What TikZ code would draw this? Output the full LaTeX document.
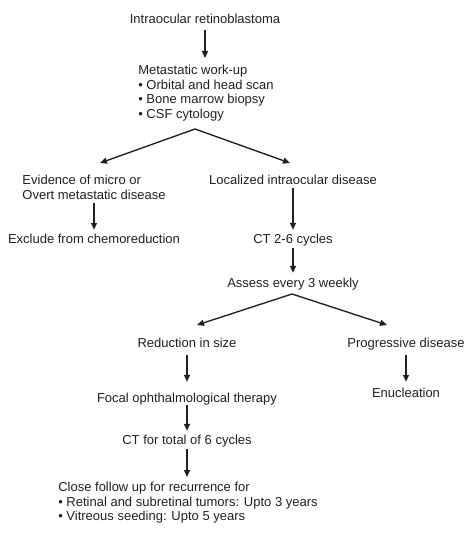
\documentclass[tikz,border=0pt]{standalone}
\usepackage{fontspec}
\setmainfont{Liberation Sans}
\usetikzlibrary{arrows.meta}
\definecolor{ink}{HTML}{231F20}
\tikzset{
  txt/.style={inner sep=0, font=\fontsize{13}{14.5}\selectfont, text=ink},
  one/.style={txt, text height=9.5pt, text depth=2.5pt},
  blk/.style={txt, align=left, anchor=north},
  arr/.style={-{Triangle[length=7pt,width=6pt]}, line width=1.35pt, draw=ink,
    shorten <=2pt, shorten >=4pt},
}

\begin{document}
\begin{tikzpicture}[x=1pt,y=-1pt]
\useasboundingbox (0,0) rectangle (474,535);
% top of the chart
\node[one] (intra) at (205,20) {Intraocular retinoblastoma};
\node[blk] (meta) at (206,65) {Metastatic work-up\\
  \textbullet{} Orbital and head scan\\
  \textbullet{} Bone marrow biopsy\\
  \textbullet{} CSF cytology};
\node[blk] (evid) at (94,175) {Evidence of micro or\\Overt metastatic disease};
\node[one] (excl) at (94,240) {Exclude from chemoreduction};
\node[one] (local) at (293,181) {Localized intraocular disease};
\node[one] (ct) at (293,240) {CT 2-6 cycles};
\node[one] (assess) at (293,284) {Assess every 3 weekly};
% lower branches
\node[one] (reduc) at (187,344) {Reduction in size};
\node[one] (prog) at (406,344) {Progressive disease};
\node[one] (enuc) at (406,394) {Enucleation};
\node[one] (focal) at (187,399) {Focal ophthalmological therapy};
\node[one] (cttot) at (187,441) {CT for total of 6 cycles};
\node[blk] (close) at (188,482) {Close follow up for recurrence for\\
  \textbullet{} Retinal and subretinal tumors: Upto 3 years\\
  \textbullet{} Vitreous seeding: Upto 5 years};
\coordinate (fork1) at (195,129);
\coordinate (tipL1) at (100,163);
\coordinate (tipR1) at (290,163);
\coordinate (fork2) at (292,294);
\coordinate (tipL2) at (197,325);
\coordinate (tipR2) at (387,325);
% arrows
\draw[arr, shorten <=4pt, shorten >=7pt] (intra) -- (intra |- meta.north);
\draw[arr, shorten <=0pt, shorten >=0pt] (fork1) -- (tipL1);
\draw[arr, shorten <=0pt, shorten >=0pt] (fork1) -- (tipR1);
\draw[arr, shorten <=4pt, shorten >=4pt] (evid.south) -- (evid.south |- excl.north);
\draw[arr, shorten <=1pt] (local) -- (ct);
\draw[arr, shorten >=5pt] (ct) -- (assess);
\draw[arr, shorten <=0pt, shorten >=0pt] (fork2) -- (tipL2);
\draw[arr, shorten <=0pt, shorten >=0pt] (fork2) -- (tipR2);
\draw[arr, shorten <=5pt, shorten >=11pt] (reduc) -- (focal);
\draw[arr, shorten <=5pt, shorten >=6pt] (prog) -- (enuc);
\draw[arr, shorten <=0pt] (focal) -- (cttot);
\draw[arr, shorten >=5pt] (cttot) -- (cttot |- close.north);
\end{tikzpicture}
\end{document}
